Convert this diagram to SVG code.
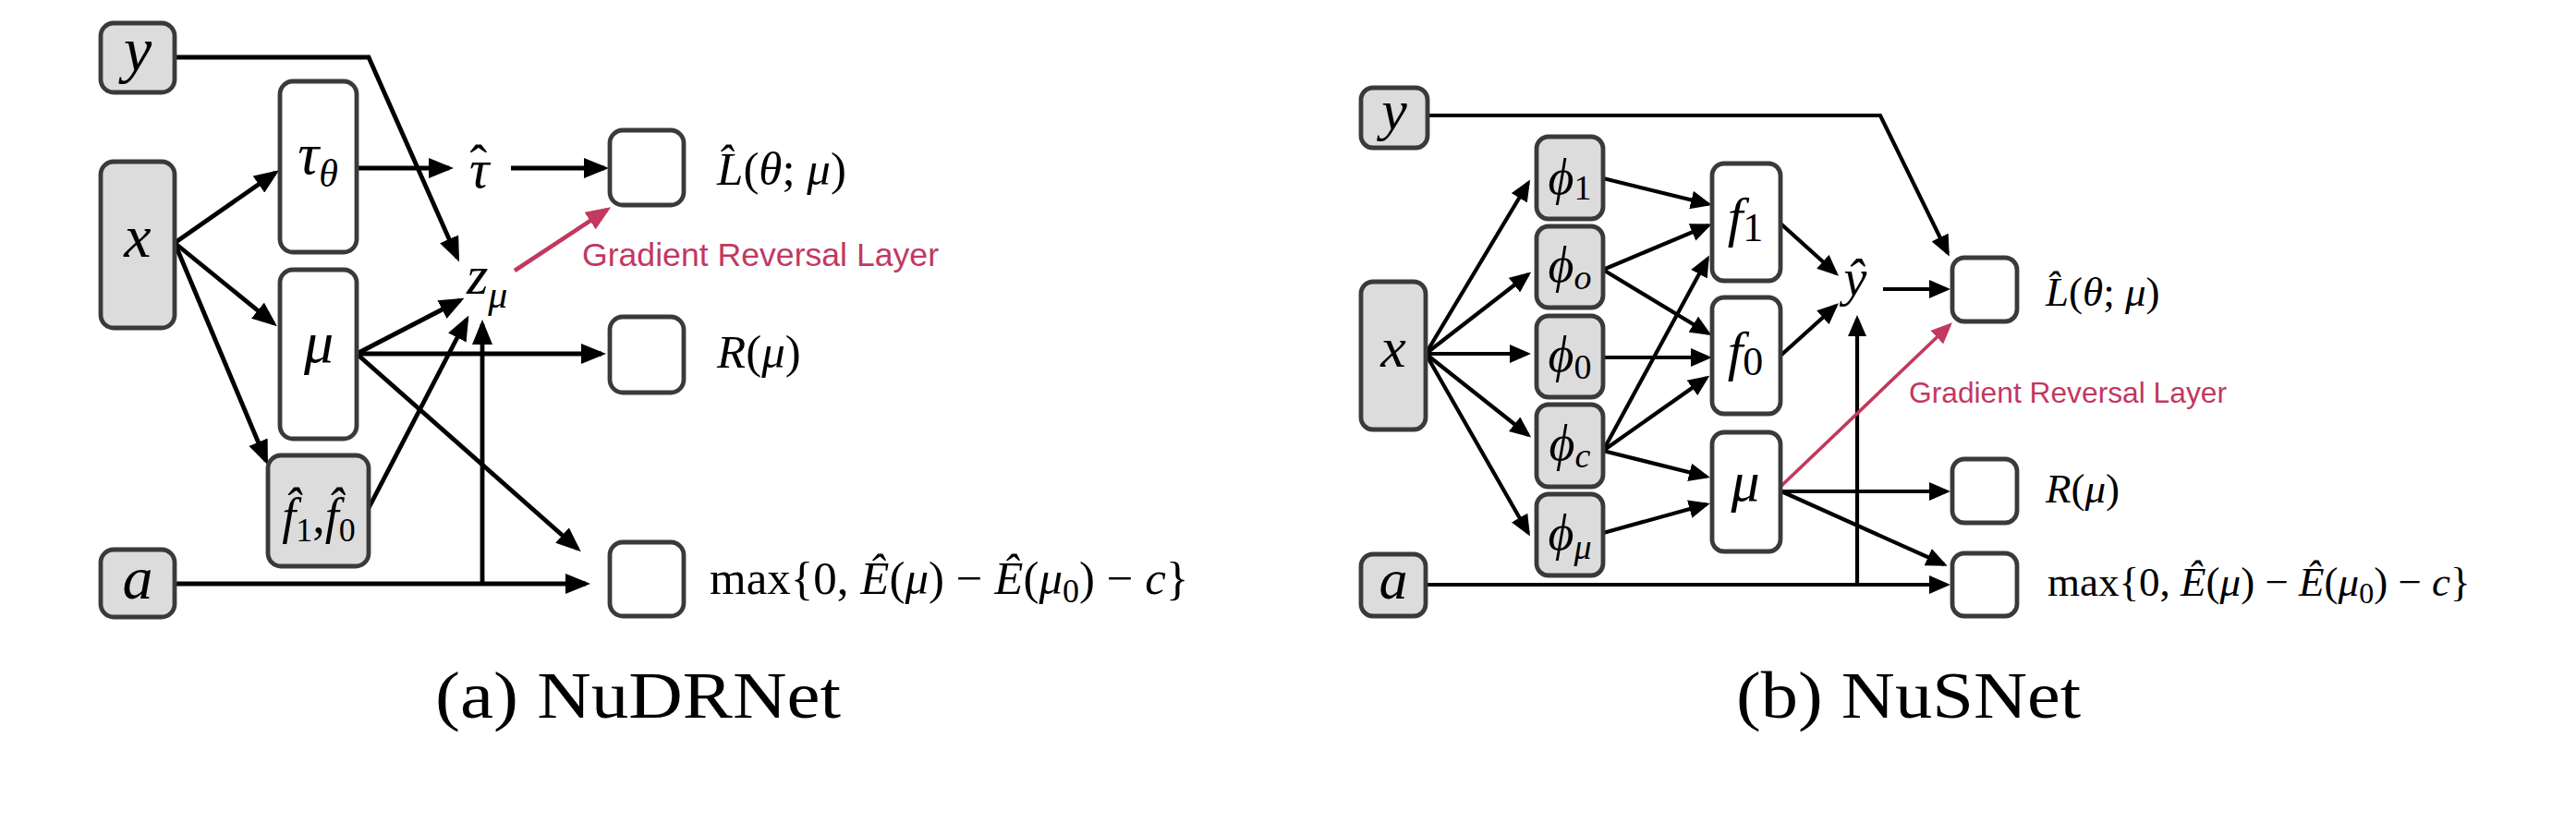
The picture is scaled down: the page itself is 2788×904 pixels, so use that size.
<svg xmlns="http://www.w3.org/2000/svg" width="2788" height="904" viewBox="0 0 2788 904">
<style>
.bg{fill:#ffffff}
.nd{stroke:#3a3a3a;stroke-width:4.8}
.g{fill:#dcdcdc}
.w{fill:#ffffff}
.ca{fill:none;stroke:#000;stroke-width:4.8;marker-end:url(#ha)}
.cb{fill:none;stroke:#000;stroke-width:4.2;marker-end:url(#hb)}
.ra{fill:none;stroke:#c2385f;stroke-width:4.5;marker-end:url(#hra)}
.rb{fill:none;stroke:#c2385f;stroke-width:3.6;marker-end:url(#hrb)}
.m{font-family:"Liberation Serif","DejaVu Serif",serif;font-style:italic;fill:#000}
.u{font-style:normal}
.grl{font-family:"Liberation Sans",Arial,sans-serif;fill:#c2385f}
.cap{font-family:"Liberation Serif","DejaVu Serif",serif;font-size:72px;fill:#000}
</style>
<defs>
<marker id="ha" markerUnits="userSpaceOnUse" markerWidth="27" markerHeight="22" refX="22" refY="11" orient="auto" viewBox="0 0 27 22"><path d="M0,0 L27,11 L0,22 z" fill="#000"/></marker>
<marker id="hb" markerUnits="userSpaceOnUse" markerWidth="23" markerHeight="20" refX="19" refY="10" orient="auto" viewBox="0 0 23 20"><path d="M0,0 L23,10 L0,20 z" fill="#000"/></marker>
<marker id="hra" markerUnits="userSpaceOnUse" markerWidth="27" markerHeight="22" refX="22" refY="11" orient="auto" viewBox="0 0 27 22"><path d="M0,0 L27,11 L0,22 z" fill="#c2385f"/></marker>
<marker id="hrb" markerUnits="userSpaceOnUse" markerWidth="23" markerHeight="20" refX="19" refY="10" orient="auto" viewBox="0 0 23 20"><path d="M0,0 L23,10 L0,20 z" fill="#c2385f"/></marker>
</defs>
<rect class="bg" x="0" y="0" width="2788" height="904"/>

<!-- Panel (a) connectors -->
<g id="connectors-a">
<path class="ca" d="M189,62 L399,62 L495,279"/>
<path class="ca" d="M189,263 L298,187"/>
<path class="ca" d="M189,263 L296,350"/>
<path class="ca" d="M189,263 L288,499"/>
<path class="ca" d="M386,182 L486,182"/>
<path class="ca" d="M553,182 L654,182"/>
<path class="ca" d="M386,383 L498,325"/>
<path class="ca" d="M399,550 L505,346"/>
<path class="ca" d="M189,632 L634,632"/>
<path class="ca" d="M522,632 L522,351"/>
<path class="ca" d="M386,383 L651,383"/>
<path class="ca" d="M386,383 L625,594"/>
<path class="ra" d="M557,293 L657,227"/>
</g>

<!-- Panel (a) nodes -->
<g id="a-y"><rect class="nd g" x="109" y="25" width="80" height="75" rx="14"/><text class="m" x="149" y="77" font-size="68" text-anchor="middle">y</text></g>
<g id="a-x"><rect class="nd g" x="109" y="175" width="80" height="180" rx="14"/><text class="m" x="149" y="278" font-size="66" text-anchor="middle">x</text></g>
<g id="a-a"><rect class="nd g" x="109" y="595" width="80" height="73" rx="14"/><text class="m" x="149" y="648" font-size="66" text-anchor="middle">a</text></g>
<g id="a-tau"><rect class="nd w" x="303" y="88" width="83" height="185" rx="14"/><text class="m" x="344" y="188" font-size="64" text-anchor="middle">τ<tspan font-size="42" dy="14">θ</tspan></text></g>
<g id="a-mu"><rect class="nd w" x="303" y="292" width="83" height="183" rx="14"/><text class="m" x="345" y="392" font-size="64" text-anchor="middle">μ</text></g>
<g id="a-f"><rect class="nd g" x="290" y="493" width="109" height="120" rx="14"/><text class="m" x="345" y="577" font-size="54" text-anchor="middle">f̂<tspan font-size="36" dy="9" class="u">1</tspan><tspan dy="-9" class="u">,</tspan>f̂<tspan font-size="36" dy="9" class="u">0</tspan></text></g>
<g id="a-tauhat"><text class="m" x="508" y="203" font-size="60">τ<tspan class="u" font-size="56" dx="-21" dy="-7">ˆ</tspan></text></g>
<g id="a-z"><text class="m" x="505" y="318" font-size="60">z<tspan font-size="42" dy="15">μ</tspan></text></g>
<g id="a-L"><rect class="nd w" x="660" y="141" width="80" height="81" rx="14"/><text class="m" x="776" y="200" font-size="51">L̂<tspan class="u">(</tspan>θ<tspan class="u">; </tspan>μ<tspan class="u">)</tspan></text></g>
<g id="a-R"><rect class="nd w" x="660" y="343" width="80" height="82" rx="14"/><text class="m" x="776" y="398" font-size="51">R<tspan class="u">(</tspan>μ<tspan class="u">)</tspan></text></g>
<g id="a-max"><rect class="nd w" x="660" y="587" width="80" height="80" rx="14"/><text class="m" x="768" y="643" font-size="51"><tspan class="u">max{0, </tspan>Ê<tspan class="u">(</tspan>μ<tspan class="u">) − </tspan>Ê<tspan class="u">(</tspan>μ<tspan class="u" font-size="36" dy="9">0</tspan><tspan class="u" dy="-9">) − </tspan>c<tspan class="u">}</tspan></text></g>
<g id="a-grl"><text class="grl" x="630" y="288" font-size="35" textLength="386" lengthAdjust="spacingAndGlyphs">Gradient Reversal Layer</text></g>

<!-- Panel (b) connectors -->
<g id="connectors-b">
<path class="cb" d="M1545,125 L2035,125 L2108,274"/>
<path class="cb" d="M1543,383 L1654,198"/>
<path class="cb" d="M1543,383 L1654,297"/>
<path class="cb" d="M1543,383 L1653,383"/>
<path class="cb" d="M1543,383 L1654,471"/>
<path class="cb" d="M1543,383 L1654,577"/>
<path class="cb" d="M1735,193 L1849,221"/>
<path class="cb" d="M1735,292 L1849,244"/>
<path class="cb" d="M1735,292 L1849,361"/>
<path class="cb" d="M1735,387 L1849,387"/>
<path class="cb" d="M1735,488 L1848,280"/>
<path class="cb" d="M1735,488 L1847,409"/>
<path class="cb" d="M1735,488 L1847,516"/>
<path class="cb" d="M1735,577 L1847,546"/>
<path class="cb" d="M1926,241 L1987,296"/>
<path class="cb" d="M1926,386 L1987,331"/>
<path class="cb" d="M2038,313 L2107,313"/>
<path class="cb" d="M2010,633 L2010,345"/>
<path class="cb" d="M1543,633 L2107,633"/>
<path class="cb" d="M1928,532 L2107,532"/>
<path class="cb" d="M1928,532 L2104,611"/>
<path class="rb" d="M1928,526 L2110,352"/>
</g>

<!-- Panel (b) nodes -->
<g id="b-y"><rect class="nd g" x="1473" y="95" width="72" height="65" rx="13"/><text class="m" x="1509" y="140" font-size="62" text-anchor="middle">y</text></g>
<g id="b-x"><rect class="nd g" x="1473" y="305" width="70" height="160" rx="13"/><text class="m" x="1508" y="397" font-size="62" text-anchor="middle">x</text></g>
<g id="b-a"><rect class="nd g" x="1473" y="600" width="70" height="67" rx="13"/><text class="m" x="1508" y="648" font-size="62" text-anchor="middle">a</text></g>
<g id="b-phi1"><rect class="nd g" x="1663" y="148" width="72" height="89" rx="13"/><text class="m" x="1699" y="210" font-size="54" text-anchor="middle">ϕ<tspan class="u" font-size="38" dy="6">1</tspan></text></g>
<g id="b-phio"><rect class="nd g" x="1663" y="245" width="72" height="88" rx="13"/><text class="m" x="1699" y="305" font-size="54" text-anchor="middle">ϕ<tspan font-size="38" dy="8">o</tspan></text></g>
<g id="b-phi0"><rect class="nd g" x="1663" y="342" width="72" height="88" rx="13"/><text class="m" x="1699" y="402" font-size="54" text-anchor="middle">ϕ<tspan class="u" font-size="38" dy="8">0</tspan></text></g>
<g id="b-phic"><rect class="nd g" x="1663" y="438" width="72" height="89" rx="13"/><text class="m" x="1699" y="498" font-size="54" text-anchor="middle">ϕ<tspan font-size="38" dy="8">c</tspan></text></g>
<g id="b-phimu"><rect class="nd g" x="1663" y="535" width="72" height="88" rx="13"/><text class="m" x="1699" y="595" font-size="54" text-anchor="middle">ϕ<tspan font-size="38" dy="10">μ</tspan></text></g>
<g id="b-f1"><rect class="nd w" x="1853" y="177" width="74" height="127" rx="13"/><text class="m" x="1889" y="255" font-size="60" text-anchor="middle">f<tspan class="u" font-size="44" dy="6">1</tspan></text></g>
<g id="b-f0"><rect class="nd w" x="1853" y="322" width="74" height="126" rx="13"/><text class="m" x="1889" y="400" font-size="60" text-anchor="middle">f<tspan class="u" font-size="44" dy="6">0</tspan></text></g>
<g id="b-mu"><rect class="nd w" x="1853" y="468" width="74" height="129" rx="13"/><text class="m" x="1889" y="542" font-size="62" text-anchor="middle">μ</text></g>
<g id="b-yhat"><text class="m" x="2008" y="320" font-size="56" text-anchor="middle">ŷ</text></g>
<g id="b-L"><rect class="nd w" x="2113" y="279" width="70" height="69" rx="13"/><text class="m" x="2214" y="331" font-size="45">L̂<tspan class="u">(</tspan>θ<tspan class="u">; </tspan>μ<tspan class="u">)</tspan></text></g>
<g id="b-R"><rect class="nd w" x="2113" y="497" width="70" height="69" rx="13"/><text class="m" x="2214" y="544" font-size="45">R<tspan class="u">(</tspan>μ<tspan class="u">)</tspan></text></g>
<g id="b-max"><rect class="nd w" x="2113" y="599" width="70" height="68" rx="13"/><text class="m" x="2216" y="645" font-size="45"><tspan class="u">max{0, </tspan>Ê<tspan class="u">(</tspan>μ<tspan class="u">) − </tspan>Ê<tspan class="u">(</tspan>μ<tspan class="u" font-size="32" dy="8">0</tspan><tspan class="u" dy="-8">) − </tspan>c<tspan class="u">}</tspan></text></g>
<g id="b-grl"><text class="grl" x="2066" y="436" font-size="32" textLength="344" lengthAdjust="spacingAndGlyphs">Gradient Reversal Layer</text></g>

<!-- Captions -->
<text class="cap" x="471" y="777" textLength="439" lengthAdjust="spacingAndGlyphs">(a) NuDRNet</text>
<text class="cap" x="1879" y="777" textLength="373" lengthAdjust="spacingAndGlyphs">(b) NuSNet</text>
</svg>
